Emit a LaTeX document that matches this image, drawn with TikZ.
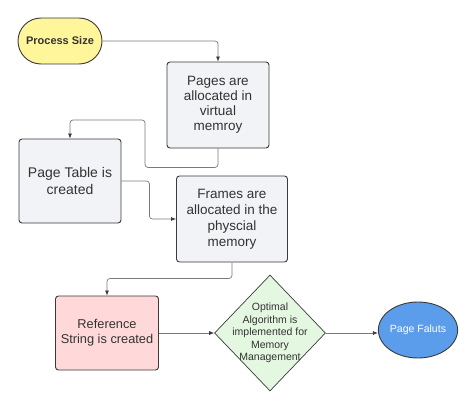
\documentclass[tikz,border=0pt]{standalone}
\usepackage{fontspec}
\setmainfont{Liberation Sans}
\usetikzlibrary{shapes.geometric,arrows.meta}
\definecolor{txt}{HTML}{333333}
\definecolor{edge}{HTML}{3A3A3A}
\definecolor{conn}{HTML}{7A7A7A}
\definecolor{boxfill}{HTML}{F2F3F6}
\definecolor{yel}{HTML}{FFF59A}
\definecolor{pinkf}{HTML}{FFD9D9}
\definecolor{greenf}{HTML}{E4F8E1}
\definecolor{bluef}{HTML}{5C9DEB}
\tikzset{
  procbox/.style={draw=edge, line width=0.9pt, fill=boxfill, rounded corners=3pt, inner sep=0pt, align=center, text=txt},
  conn/.style={draw=conn, line width=0.7pt, rounded corners=3pt, -{Latex[length=5pt,width=4pt,color=edge]}},
}
\begin{document}
\begin{tikzpicture}[x=1pt,y=-1pt]
\useasboundingbox (0,0) rectangle (474,412);
\fill[white] (0,0) rectangle (474,412);
\node[draw=edge, line width=0.9pt, fill=yel, rounded corners=23pt, minimum width=84pt, minimum height=46pt, inner sep=0pt, font=\fontsize{11}{13}\selectfont\bfseries, text=txt] (ps) at (60,41) {Process Size};
\node[procbox, minimum width=102pt, minimum height=86pt, font=\fontsize{13.5}{15}\selectfont] (pg) at (218,105) {Pages are\\allocated in\\virtual\\memroy};
\node[procbox, minimum width=102pt, minimum height=84pt, font=\fontsize{14}{17}\selectfont] (pt) at (70,181) {Page Table is\\created};
\node[procbox, minimum width=111pt, minimum height=86pt, font=\fontsize{13.5}{16}\selectfont] (fr) at (232,219) {Frames are\\allocated in the\\physcial\\memory};
\node[procbox, fill=pinkf, minimum width=103pt, minimum height=74pt, font=\fontsize{12.8}{15}\selectfont] (ref) at (107,333) {Reference\\String is created};
\node[diamond, draw=edge, line width=0.7pt, fill=greenf, minimum width=111pt, minimum height=116pt, inner sep=0pt,
  label={[align=center, text=txt, font=\fontsize{10.5}{12.5}\selectfont]center:Optimal\\Algorithm is\\implemented for\\Memory\\Management}] (dia) at (270,333) {};
\node[ellipse, draw=edge, line width=0.9pt, fill=bluef, minimum width=75pt, minimum height=56pt, inner sep=0pt, text=white, font=\fontsize{10.5}{12}\selectfont] (ell) at (418,330) {Page Faluts};
\draw[conn] (ps.east) -| (pg.north);
\draw[conn] (pg.south) -- ++(0,19) -| (145,120) -| (pt.north);
\draw[conn] (pt.east) -- ++(28,0) |- (fr.west);
\draw[conn] (fr.south) -- ++(0,16) -| (ref.north);
\draw[conn] (ref.east) -- (dia.west);
\draw[conn] (dia.east) -- (dia.east -| ell.west);
\end{tikzpicture}
\end{document}
